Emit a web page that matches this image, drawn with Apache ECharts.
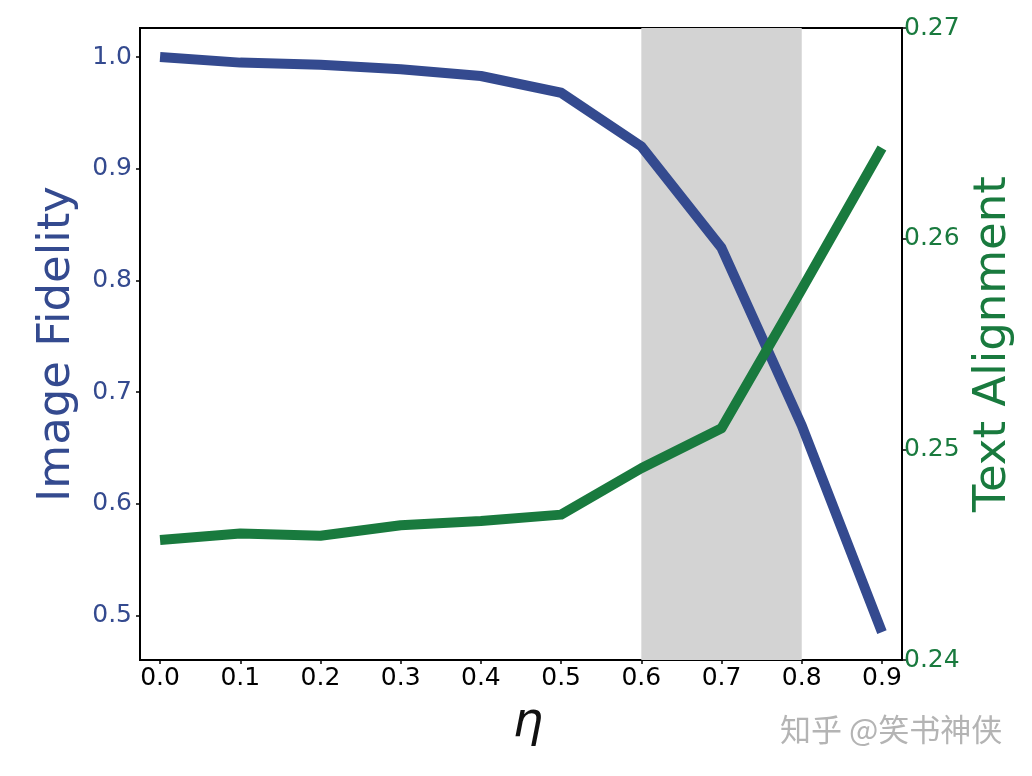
<!DOCTYPE html>
<html>
<head>
<meta charset="utf-8">
<script src="https://cdn.jsdelivr.net/npm/echarts@6/dist/echarts.min.js"></script>
<style>
html,body{margin:0;padding:0;background:#fff;}
#chart{width:1032px;height:776px;}
</style>
</head>
<body>
<div id="chart"></div>
<script>
// ---- data ----
const etaValues = [0.0, 0.1, 0.2, 0.3, 0.4, 0.5, 0.6, 0.7, 0.8, 0.9];
const imageFidelity = [1.000, 0.995, 0.993, 0.989, 0.983, 0.968, 0.920, 0.829, 0.670, 0.485];
const textAlignment = [0.2457, 0.2460, 0.2459, 0.2464, 0.2466, 0.2469, 0.2491, 0.2510, 0.2576, 0.2643];
const xTicks = [0.0, 0.1, 0.2, 0.3, 0.4, 0.5, 0.6, 0.7, 0.8, 0.9];
const leftTicks = [0.5, 0.6, 0.7, 0.8, 0.9, 1.0];
const rightTicks = [0.24, 0.25, 0.26, 0.27];
const shadedRange = [0.6, 0.8];

const BLUE = '#344a8f';
const GREEN = '#197a3e';
const FONT = 'DejaVu Sans';

const chart = echarts.init(document.getElementById('chart'), null, {renderer: 'canvas'});

const option = {
  backgroundColor: '#ffffff',
  animation: false,
  grid: {
    left: 140, right: 130, top: 28, bottom: 116,
    show: true, borderColor: '#000', borderWidth: 2, backgroundColor: 'transparent'
  },
  xAxis: {
    type: 'value',
    min: -0.025, max: 0.925,
    name: 'η',
    nameLocation: 'middle',
    nameGap: 40,
    nameTextStyle: {fontFamily: FONT, fontSize: 48, fontStyle: 'italic', color: '#111', padding: [0, 0, 0, 14]},
    axisLine: {show: true, onZero: false, lineStyle: {color: '#000', width: 2}},
    axisTick: {show: true, length: 4, customValues: xTicks, lineStyle: {color: '#000', width: 1.5}},
    axisLabel: {
      customValues: xTicks, margin: 6,
      fontFamily: FONT, fontSize: 25, color: '#000',
      formatter: v => Number(v).toFixed(1)
    },
    splitLine: {show: false}
  },
  yAxis: [
    {
      type: 'value', position: 'left',
      min: 0.46, max: 1.026,
      name: 'Image Fidelity',
      nameLocation: 'middle',
      nameGap: 60,
      nameTextStyle: {fontFamily: FONT, fontSize: 45, color: BLUE},
      axisLine: {show: true, onZero: false, lineStyle: {color: '#000', width: 2}},
      axisTick: {show: true, length: 4, customValues: leftTicks, lineStyle: {color: '#000', width: 1.5}},
      axisLabel: {
        customValues: leftTicks, margin: 8,
        fontFamily: FONT, fontSize: 25, color: BLUE,
        formatter: v => Number(v).toFixed(1)
      },
      splitLine: {show: false}
    },
    {
      type: 'value', position: 'right',
      min: 0.24, max: 0.27,
      name: 'Text Alignment',
      nameLocation: 'middle',
      nameGap: 64,
      nameTextStyle: {fontFamily: FONT, fontSize: 45, color: GREEN},
      axisLine: {show: true, onZero: false, lineStyle: {color: '#000', width: 2}},
      axisTick: {show: true, length: 4, customValues: rightTicks, lineStyle: {color: '#000', width: 1.5}},
      axisLabel: {
        customValues: rightTicks, margin: 2,
        fontFamily: FONT, fontSize: 25, color: GREEN,
        formatter: v => Number(v).toFixed(2)
      },
      splitLine: {show: false}
    }
  ],
  series: [
    {
      name: 'shade',
      type: 'line',
      yAxisIndex: 0,
      data: [],
      z: 1,
      silent: true,
      markArea: {
        silent: true,
        itemStyle: {color: '#d3d3d3', opacity: 1},
        data: [[{xAxis: shadedRange[0]}, {xAxis: shadedRange[1]}]]
      }
    },
    {
      name: 'Image Fidelity',
      type: 'line',
      yAxisIndex: 0,
      data: etaValues.map((x, i) => [x, imageFidelity[i]]),
      showSymbol: false,
      lineStyle: {color: BLUE, width: 10, cap: 'butt', join: 'round'},
      z: 3
    },
    {
      name: 'Text Alignment',
      type: 'line',
      yAxisIndex: 1,
      data: etaValues.map((x, i) => [x, textAlignment[i]]),
      showSymbol: false,
      lineStyle: {color: GREEN, width: 10, cap: 'butt', join: 'round'},
      z: 4
    }
  ],
  graphic: [
    {
      type: 'text',
      left: 780, top: 714,
      style: {
        text: '知乎 @笑书神侠',
        fontFamily: 'Noto Sans CJK SC',
        fontSize: 31,
        fill: '#b4b4b4'
      },
      z: 10
    }
  ]
};

chart.setOption(option);
</script>
</body>
</html>
